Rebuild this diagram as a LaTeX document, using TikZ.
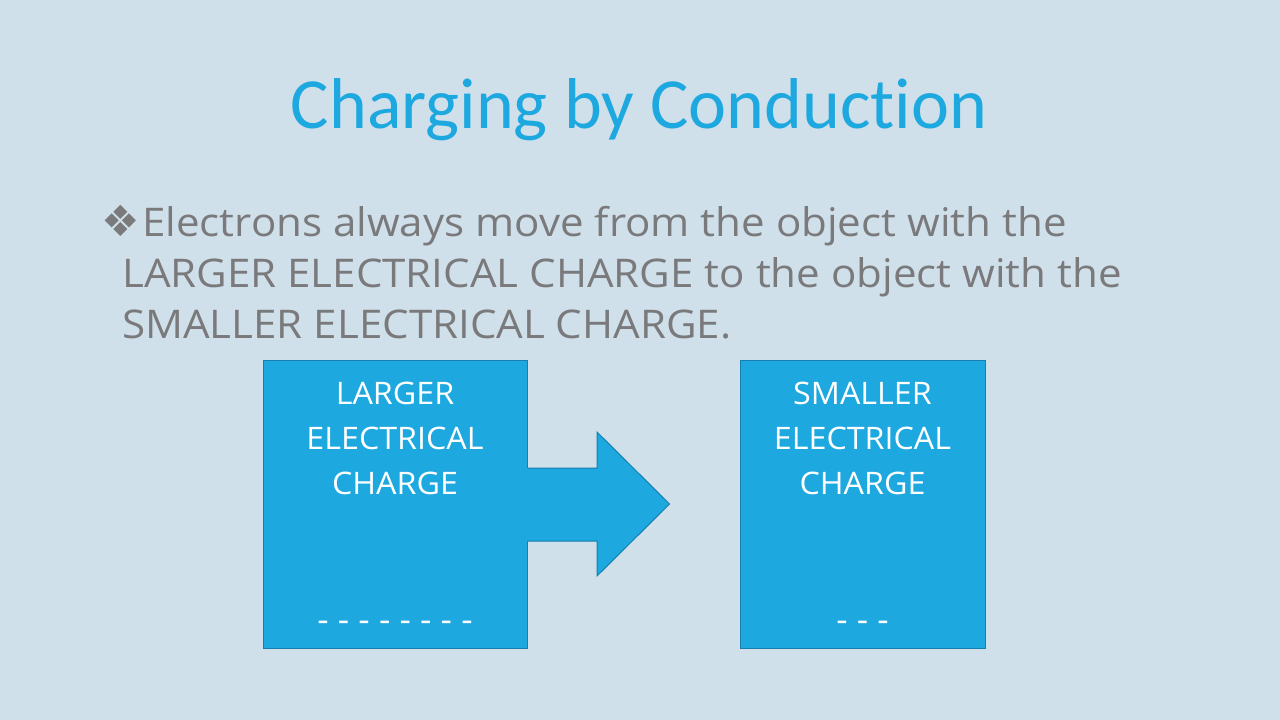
\documentclass[tikz,border=0pt]{standalone}
\usepackage{fontspec}
\setmainfont{Carlito}[Ligatures=NoCommon]
\newfontfamily\bodyfont{Open Sans}[FakeStretch=1.065]
\newfontfamily\boxfont{Open Sans}[FakeStretch=1.04]
\newfontfamily\symfont{DejaVu Sans}
\usetikzlibrary{calc}
\definecolor{slidebg}{RGB}{208,224,234}
\definecolor{titleblue}{RGB}{29,168,224}
\definecolor{boxfill}{RGB}{29,168,224}
\definecolor{boxline}{RGB}{22,126,176}
\definecolor{bodygray}{RGB}{122,122,124}
\tikzset{
  titletext/.style={font=\fontsize{72}{80}\selectfont,text=titleblue,anchor=base,inner sep=0pt},
  bodytext/.style={font=\bodyfont\fontsize{39.5}{50}\selectfont,text=bodygray,anchor=base west,inner sep=0pt},
  chargebox/.style={fill=boxfill,draw=boxline,line width=1pt,inner sep=0pt},
  boxtext/.style={font=\boxfont\fontsize{31}{45}\selectfont,text=white,align=center,anchor=base,inner sep=0pt},
}

\begin{document}
\begin{tikzpicture}[x=1pt,y=-1pt]
  \fill[slidebg] (0,0) rectangle (1280,720);
  \useasboundingbox (0,0) rectangle (1280,720);
  % heading
  \node[titletext] (title) at (639,128) {Charging by Conduction};
  % bullet text
  \node[bodytext,font=\fontsize{43}{50}\symfont] (bullet) at (101,236) {❖};
  \node[bodytext] (lineA) at (142,236) {Electrons always move from the object with the};
  \node[bodytext] (lineB) at (122,287) {LARGER ELECTRICAL CHARGE to the object with the};
  \node[bodytext] (lineC) at (122,338) {SMALLER ELECTRICAL CHARGE.};
  % the two objects
  \node[chargebox,minimum width=264,minimum height=288] (larger) at (395,504) {};
  \node[chargebox,minimum width=245,minimum height=288] (smaller) at (862.5,504) {};
  \node[boxtext] (largerlbl) at (395,494) {LARGER\\ELECTRICAL\\CHARGE};
  \node[boxtext] (smallerlbl) at (862.5,494) {SMALLER\\ELECTRICAL\\CHARGE};
  \node[boxtext,font=\boxfont\fontsize{34}{45}\selectfont] (largerq) at (395,631) {- - - - - - - -};
  \node[boxtext,font=\boxfont\fontsize{34}{45}\selectfont] (smallerq) at (862.5,631) {- - -};
  % block arrow out of the larger box
  \coordinate (s1) at ($(larger.east)+(-1,-36)$);
  \coordinate (s2) at ($(larger.east)+(-1,37)$);
  \coordinate (tip) at ($(larger.east)+(142,0)$);
  \fill[boxfill] (s1) -- (597,468) -- (597,432) -- (tip) -- (597,576) -- (597,541) -- (s2) -- cycle;
  \draw[boxline,line width=1pt,line join=miter] ($(s1)+(1,0)$) -- (597,468) -- (597,432) -- (tip) -- (597,576) -- (597,541) -- ($(s2)+(1,0)$);
\end{tikzpicture}
\end{document}
